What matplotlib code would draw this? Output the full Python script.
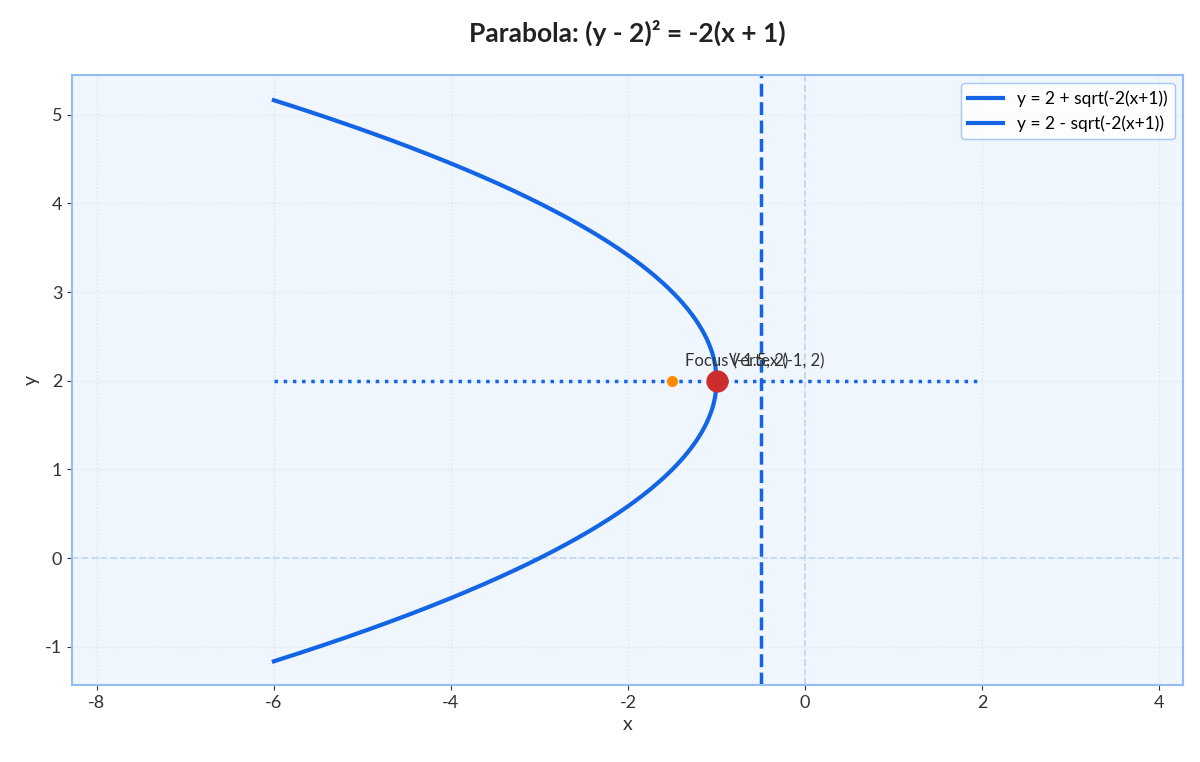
import numpy as np
import matplotlib
matplotlib.use("Agg")
import matplotlib.pyplot as plt

plt.rcParams['font.family'] = ['Lato', 'DejaVu Sans']
plt.rcParams['axes.unicode_minus'] = False

# parabola (y - k)^2 = a (x - h)
a, h, k = -2.0, -1.0, 2.0
x_start, x_end = -6.0, -1.0
focus = (-1.5, 2.0)
vertex = (-1.0, 2.0)
directrix_x = -0.5
axis_x = [-6.0, 2.0]
labels_branch = ['y = 2 + sqrt(-2(x+1))', 'y = 2 - sqrt(-2(x+1))']

blue = '#1464e6'
fig, ax = plt.subplots(figsize=(12, 7.62), dpi=100)
fig.subplots_adjust(left=0.06, right=0.986, top=0.902, bottom=0.101)
ax.set_facecolor('#f0f6fd')

xs = np.linspace(x_start, x_end, 400)
r = np.sqrt(np.clip(a * (xs - h), 0, None))
ax.plot(xs, k + r, color=blue, lw=3, label=labels_branch[0], zorder=3)
ax.plot(xs, k - r, color=blue, lw=3, label=labels_branch[1], zorder=3)

ax.axhline(0, color='#bcd4f5', lw=1.3, ls='--', zorder=1)
ax.axvline(0, color='#bcd4f5', lw=1.3, ls='--', zorder=1)
ax.axvline(directrix_x, color=blue, lw=2.5, ls='--', zorder=2)
ax.plot(axis_x, [k, k], color=blue, lw=2.5, ls=':', zorder=2)

ax.plot(*focus, 'o', color='#ff8c00', ms=7, zorder=4)
ax.plot(*vertex, 'o', color='#cc2e2e', ms=15, zorder=5)
ax.annotate(f'Focus ({focus[0]:g}, {focus[1]:g})', focus, xytext=(9, 10),
            textcoords='offset points', fontsize=12, color='#333333')
ax.annotate(f'Vertex ({vertex[0]:g}, {vertex[1]:g})', vertex, xytext=(9, 10),
            textcoords='offset points', fontsize=12, color='#333333')

ax.set_xlim(-8.28, 4.27)
ax.set_ylim(-1.43, 5.45)
ax.set_xticks([-8, -6, -4, -2, 0, 2, 4])
ax.set_yticks([-1, 0, 1, 2, 3, 4, 5])
ax.grid(True, color='#dde6f2', ls=':', lw=1)
ax.tick_params(labelsize=13, colors='#333333')
for s in ax.spines.values():
    s.set_color('#94bcf5'); s.set_linewidth(1.5)
ax.set_xlabel('x', fontsize=14, color='#333333')
ax.set_ylabel('y', fontsize=14, color='#333333')
ax.set_title('Parabola: (y - 2)² = -2(x + 1)', fontsize=19, fontweight='bold',
             color='#222222', pad=24)
leg = ax.legend(loc='upper right', fontsize=12.5, frameon=True, facecolor='white',
                edgecolor='#94bcf5')
fig.savefig('out.png', dpi=100)
